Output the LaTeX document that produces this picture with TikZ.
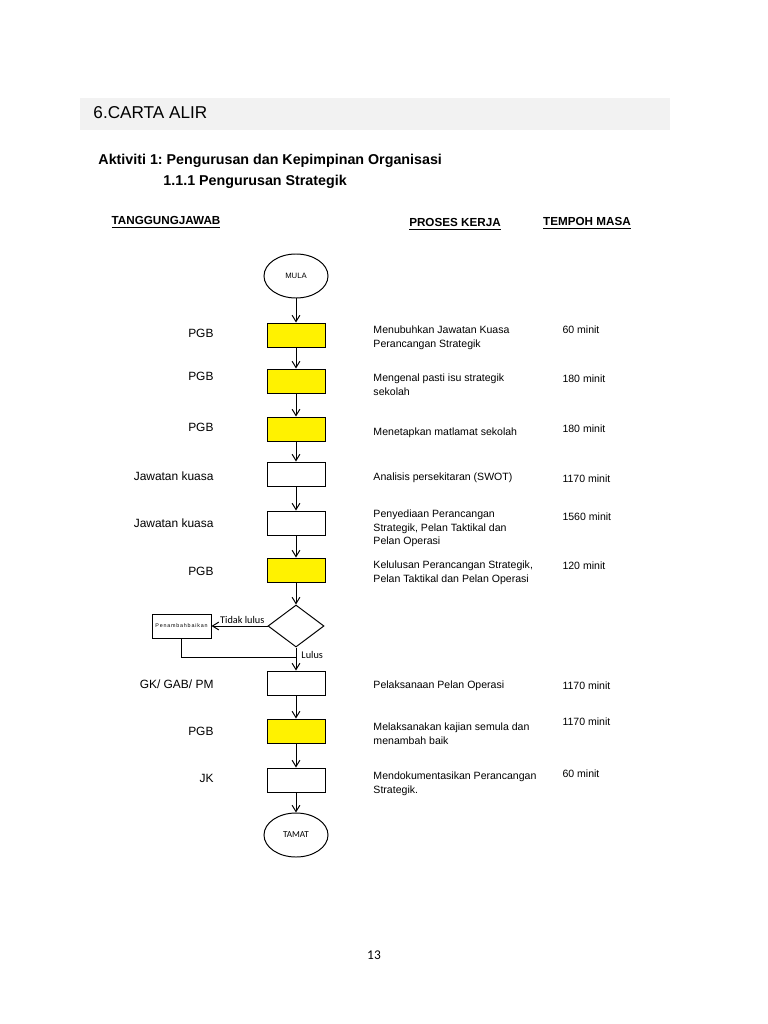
\documentclass[tikz,border=0pt]{standalone}
\usepackage{fontspec}
\setmainfont{Liberation Sans}
\newfontfamily\calibri{Carlito}
\usetikzlibrary{shapes.geometric,arrows.meta}
\frenchspacing
\begin{document}
\begin{tikzpicture}[x=0.025cm,y=-0.025cm,line width=0.7pt,
  >={Straight Barb[length=4.5pt,width=5.5pt]},
  kotak/.style={draw,rectangle,minimum width=1.45cm,minimum height=0.6cm,inner sep=0pt},
  kuning/.style={kotak,fill=yellow},
  bujur/.style={draw,ellipse,minimum width=1.6cm,minimum height=1.1cm,inner sep=0pt},
  peg/.style={anchor=east,inner sep=0pt,font=\fontsize{8.5}{10}\selectfont},
  proses/.style={anchor=north west,inner sep=0pt,align=left,font=\fontsize{7.5}{9.9}\selectfont},
  masa/.style={anchor=north west,inner sep=0pt,font=\fontsize{7.5}{9.9}\selectfont},
  tajuk/.style={anchor=base,inner sep=0pt,font=\fontsize{8.3}{10}\selectfont\bfseries}]
\useasboundingbox (0,0) rectangle (768,1024);
% page heading
\fill[gray!10] (80,98) rectangle (670,130);
\node[anchor=base west,inner sep=0pt,font=\fontsize{12.2}{14}\selectfont] (bab) at (93,119) {6.CARTA ALIR};
\node[anchor=base west,inner sep=0pt,font=\fontsize{10.15}{12}\selectfont\bfseries] (akt) at (98,165) {Aktiviti 1: Pengurusan dan Kepimpinan Organisasi};
\node[anchor=base west,inner sep=0pt,font=\fontsize{10.15}{12}\selectfont\bfseries] (sub) at (163,186) {1.1.1 Pengurusan Strategik};
\node[tajuk] (hA) at (166,225) {\underline{TANGGUNGJAWAB}};
\node[tajuk] (hB) at (455,227) {\underline{PROSES KERJA}};
\node[tajuk] (hC) at (587,226) {\underline{TEMPOH MASA}};
% flow chart
\node[bujur,font=\fontsize{5.5}{6}\selectfont] (mula) at (296,276) {MULA};
\node[kuning] (s1) at (296,335) {};
\node[kuning] (s2) at (296,381) {};
\node[kuning] (s3) at (296,429) {};
\node[kotak] (s4) at (296,474) {};
\node[kotak] (s5) at (296,523) {};
\node[kuning] (s6) at (296,570) {};
\node[draw,diamond,aspect=1.33,minimum width=1.4cm,minimum height=1.05cm,inner sep=0pt] (dia) at (296,626) {};
\node[kotak] (s7) at (296,683) {};
\node[kuning] (s8) at (296,731) {};
\node[kotak] (s9) at (296,780) {};
\node[bujur,font=\calibri\fontsize{6.5}{7}\selectfont] (tamat) at (296,835) {TAMAT};
\node[kotak,minimum width=1.475cm,font=\fontsize{3.8}{4}\selectfont\addfontfeature{LetterSpace=15}] (pb) at (181.5,626) {Penambahbaikan};
\coordinate (j) at (296,657);
\draw[->] (mula) -- (s1);
\draw[->] (s1) -- (s2);
\draw[->] (s2) -- (s3);
\draw[->] (s3) -- (s4);
\draw[->] (s4) -- (s5);
\draw[->] (s5) -- (s6);
\draw[->] (s6) -- (dia);
\draw[->] (dia.west) -- node[above,pos=0.45,inner sep=1.5pt,font=\calibri\fontsize{7.3}{8}\selectfont] {Tidak lulus} (pb.east);
\draw (pb.south) |- (j);
\draw[->] (dia.south) -- (s7.north);
\node[anchor=west,inner sep=0pt,font=\calibri\fontsize{7.3}{8}\selectfont] (lulus) at (301,655) {Lulus};
\draw[->] (s7) -- (s8);
\draw[->] (s8) -- (s9);
\draw[->] (s9) -- (tamat);
% responsibility
\node[peg] (p1) at (214,333) {PGB};
\node[peg] (p2) at (214,376) {PGB};
\node[peg] (p3) at (214,427) {PGB};
\node[peg] (p4) at (214,476) {Jawatan kuasa};
\node[peg] (p5) at (214,523) {Jawatan kuasa};
\node[peg] (p6) at (214,571) {PGB};
\node[peg] (p7) at (214,684) {GK/ GAB/ PM};
\node[peg] (p8) at (214,731) {PGB};
\node[peg] (p9) at (214,778) {JK};
% work process
\node[proses] (k1) at (373,325) {Menubuhkan Jawatan Kuasa\\Perancangan Strategik};
\node[proses] (k2) at (373,373) {Mengenal pasti isu strategik\\sekolah};
\node[proses] (k3) at (373,427) {Menetapkan matlamat sekolah};
\node[proses] (k4) at (373,472) {Analisis persekitaran (SWOT)};
\node[proses] (k5) at (373,509) {Penyediaan Perancangan\\Strategik, Pelan Taktikal dan\\Pelan Operasi};
\node[proses] (k6) at (373,560) {Kelulusan Perancangan Strategik,\\Pelan Taktikal dan Pelan Operasi};
\node[proses] (k7) at (373,680) {Pelaksanaan Pelan Operasi};
\node[proses] (k8) at (373,722) {Melaksanakan kajian semula dan\\menambah baik};
\node[proses] (k9) at (373,771) {Mendokumentasikan Perancangan\\Strategik.};
% time
\node[masa] (m1) at (562,325) {60 minit};
\node[masa] (m2) at (562,374) {180 minit};
\node[masa] (m3) at (562,424) {180 minit};
\node[masa] (m4) at (562,474) {1170 minit};
\node[masa] (m5) at (562,512) {1560 minit};
\node[masa] (m6) at (562,561) {120 minit};
\node[masa] (m7) at (562,681) {1170 minit};
\node[masa] (m8) at (562,717) {1170 minit};
\node[masa] (m9) at (562,769) {60 minit};
\node[font=\calibri\fontsize{9.5}{10}\selectfont,inner sep=0pt] (hal) at (374,955) {13};
\end{tikzpicture}
\end{document}
